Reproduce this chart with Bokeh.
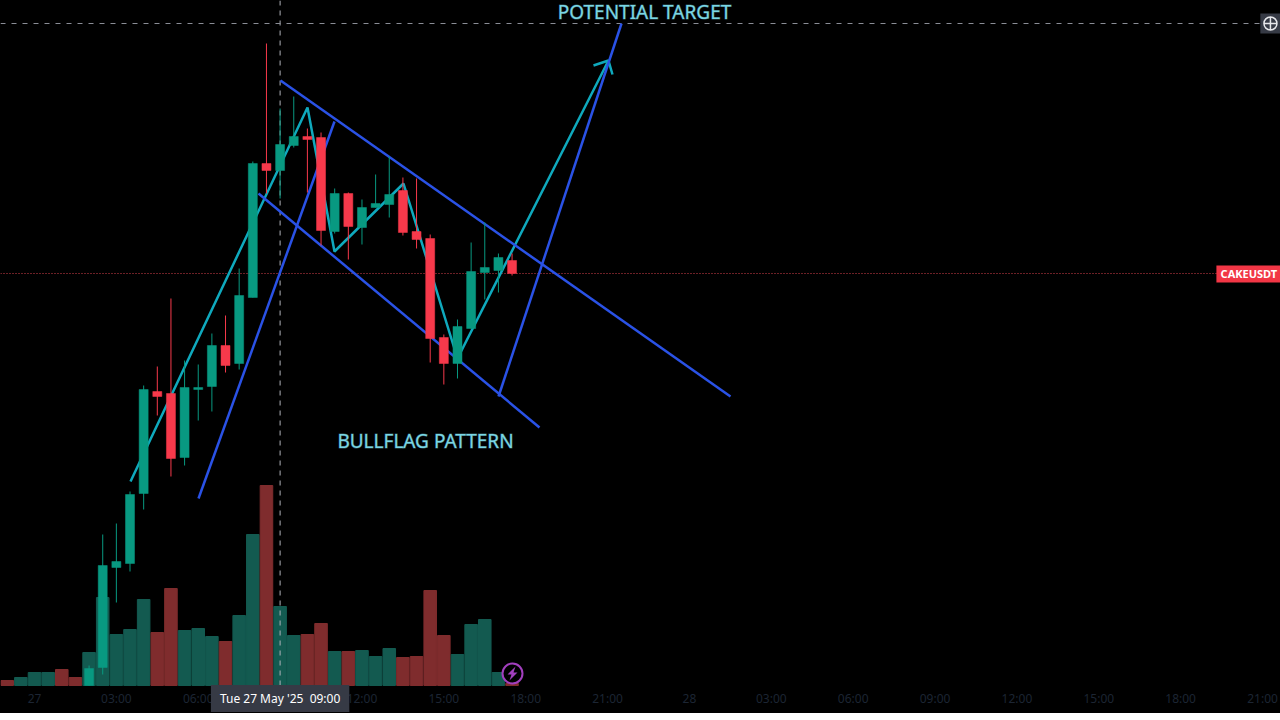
from bokeh.embed import file_html
from bokeh.resources import INLINE
from bokeh.plotting import figure
from bokeh.models import ColumnDataSource, FixedTicker, Label, Range1d, Span

# Bars: hours since 27 May 00:00 (30 minute candles)
candle_hours = [2 + 0.5 * i for i in range(32)]
opens = [2.188, 2.206, 2.306, 2.310, 2.380, 2.482, 2.480, 2.416, 2.484, 2.487, 2.528, 2.510, 2.576, 2.710, 2.703, 2.728,
         2.737, 2.736, 2.642, 2.680, 2.646, 2.666, 2.669, 2.683, 2.642, 2.635, 2.536, 2.510, 2.545, 2.601, 2.603, 2.613]
highs = [2.208, 2.339, 2.350, 2.382, 2.488, 2.507, 2.575, 2.513, 2.509, 2.540, 2.558, 2.605, 2.712, 2.830, 2.765, 2.777,
         2.745, 2.741, 2.685, 2.681, 2.674, 2.699, 2.717, 2.696, 2.695, 2.639, 2.539, 2.554, 2.631, 2.651, 2.620, 2.620]
lows = [2.188, 2.199, 2.271, 2.302, 2.364, 2.458, 2.397, 2.408, 2.453, 2.462, 2.501, 2.504, 2.576, 2.680, 2.675, 2.726,
        2.681, 2.628, 2.640, 2.614, 2.629, 2.666, 2.656, 2.638, 2.625, 2.511, 2.489, 2.495, 2.545, 2.574, 2.581, 2.598]
closes = [2.205, 2.308, 2.312, 2.379, 2.484, 2.477, 2.415, 2.486, 2.486, 2.528, 2.508, 2.578, 2.710, 2.703, 2.729, 2.737,
          2.734, 2.643, 2.680, 2.647, 2.666, 2.670, 2.679, 2.641, 2.634, 2.535, 2.510, 2.547, 2.602, 2.606, 2.616, 2.600]

volume_hours = [-1 + 0.5 * i for i in range(38)]
volumes = [5, 8, 13, 13, 16, 8, 33, 88, 51, 56, 86, 53, 97, 55, 57, 49, 44, 70, 151, 200, 79, 50, 51, 62, 34, 34, 35, 29,
           37, 28, 29, 95, 50, 31, 61, 66, 13, 2]
volume_up = [False, True, True, True, False, False, True, True, True, True, True, False, False, True, True, True, False,
             True, True, False, True, True, False, False, True, False, True, True, True, False, False, False, False,
             True, True, True, True, False]

# Drawings on the chart
zigzag_hours = [3.518, 10.004, 10.993, 13.521, 15.500, 21.033]
zigzag_prices = [2.392, 2.766, 2.622, 2.690, 2.515, 2.813]
arrow_hours = [20.484, 21.033, 21.180]
arrow_prices = [2.808, 2.813, 2.799]
blue_lines_hours = [[9.014, 25.504], [8.208, 18.505], [6.010, 10.993], [17.003, 21.510]]
blue_lines_prices = [[2.793, 2.477], [2.680, 2.446], [2.375, 2.752], [2.477, 2.850]]

target_price = 2.850
last_price = 2.600
crosshair_hours = [9, 9]
crosshair_prices = [2.188, 2.873]

tick_hours = [3 * i for i in range(16)]
tick_labels = ["27", "03:00", "06:00", "09:00", "12:00", "15:00", "18:00", "21:00",
               "28", "03:00", "06:00", "09:00", "12:00", "15:00", "18:00", "21:00"]

GREEN, RED = "#089981", "#f7394b"
VOL_GREEN, VOL_RED = "#135a50", "#7f2c2d"
TEAL, BLUE = "#0fa9bd", "#2a52e6"
TEXT = "#7ad6e4"

p = figure(width=1280, height=713, output_backend="svg", toolbar_location=None,
           x_range=Range1d(-1.2459, 45.6585), y_range=Range1d(2.160, 2.873),
           min_border_left=0, min_border_right=0, min_border_top=0, min_border_bottom=0,
           background_fill_color=None, border_fill_color="#000000", outline_line_color=None)
p.styles = {"position": "fixed", "left": "0px", "top": "0px", "background-color": "#000000"}
p.extra_y_ranges = {"volume": Range1d(-28, 685)}
p.grid.visible = False
p.yaxis.visible = False

ax = p.xaxis[0]
ax.ticker = FixedTicker(ticks=tick_hours)
ax.major_label_overrides = {h: t for h, t in zip(tick_hours, tick_labels)}
ax.axis_line_color = None
ax.major_tick_line_color = None
ax.minor_tick_line_color = None
ax.major_tick_out = 0
ax.major_tick_in = 0
ax.minor_tick_out = 0
ax.major_label_standoff = -24
ax.major_label_text_color = "#1c2533"
ax.major_label_text_font = "Noto Sans"
ax.major_label_text_font_size = "12px"

vol = ColumnDataSource(dict(x=volume_hours, top=volumes,
                            color=[VOL_GREEN if u else VOL_RED for u in volume_up]))
p.vbar(x="x", top="top", bottom=0, width=0.46, color="color", source=vol, y_range_name="volume", level="underlay")
p.line(crosshair_hours, crosshair_prices, line_color="#b0b3ba", line_width=1, line_dash="5 5", level="underlay")

p.add_layout(Span(location=target_price, dimension="width", line_color="#8a8d96", line_width=1,
                  line_dash="5 6", level="underlay"))
p.add_layout(Span(location=last_price, dimension="width", line_color="#d8404c", line_width=1,
                  line_dash="1 2", level="underlay"))

p.line(zigzag_hours, zigzag_prices, line_color=TEAL, line_width=2.5)
p.line(arrow_hours, arrow_prices, line_color=TEAL, line_width=2.5)
p.multi_line(blue_lines_hours, blue_lines_prices, line_color=BLUE, line_width=2.5)

colors = [GREEN if c >= o else RED for o, c in zip(opens, closes)]
candles = ColumnDataSource(dict(x=candle_hours, o=opens, h=highs, l=lows, c=closes, color=colors))
p.segment(x0="x", y0="h", x1="x", y1="l", line_color="color", line_width=1, source=candles)
p.vbar(x="x", top="o", bottom="c", width=0.33, fill_color="color", line_color="color", line_width=0.5, source=candles)

# lightning marker after the last bar
icon_x, icon_y = 17.516, 2.200
bolt_hours = [17.626, 17.333, 17.479, 17.406, 17.699, 17.552]
bolt_prices = [2.207, 2.199, 2.199, 2.193, 2.201, 2.201]
p.scatter([icon_x], [icon_y], size=20, marker="circle", fill_color="#000000", line_color="#a23fbe", line_width=2)
p.patch(bolt_hours, bolt_prices, fill_color="#a23fbe", line_color=None)

# price tag and plus button on the right edge
p.quad(left=[43.31], right=[45.66], top=[2.608], bottom=[2.591], fill_color="#f23645", line_color=None)
p.quad(left=[44.92], right=[45.66], top=[2.860], bottom=[2.840], fill_color="#363a45", line_color=None)
p.scatter([45.29], [2.850], size=13, marker="circle_cross", fill_color=None, line_color="#e6e7ea", line_width=1.5)

p.add_layout(Label(x=44.5, y=2.6005, text="CAKEUSDT", text_align="center", text_baseline="middle",
                   text_color="#ffffff", text_font="Noto Sans", text_font_size="11px", text_font_style="bold"))
p.add_layout(Label(x=22.353, y=2.862, text="POTENTIAL TARGET", text_align="center", text_baseline="middle",
                   text_color=TEXT, text_font="Noto Sans", text_font_size="19px",
                   text_outline_color="#7ad6e466"))
p.add_layout(Label(x=14.327, y=2.4325, text="BULLFLAG PATTERN", text_align="center", text_baseline="middle",
                   text_color=TEXT, text_font="Noto Sans", text_font_size="19px",
                   text_outline_color="#7ad6e466"))
p.add_layout(Label(x=9.0, y=2.175, text="Tue 27 May '25\u00a0\u00a009:00",
                   text_align="center", text_baseline="middle", text_color="#ffffff", text_font="Noto Sans",
                   text_font_size="12px", background_fill_color="#363a45", padding=(9, 5), level="overlay"))

open("out.html", "w").write(file_html(p, INLINE))
